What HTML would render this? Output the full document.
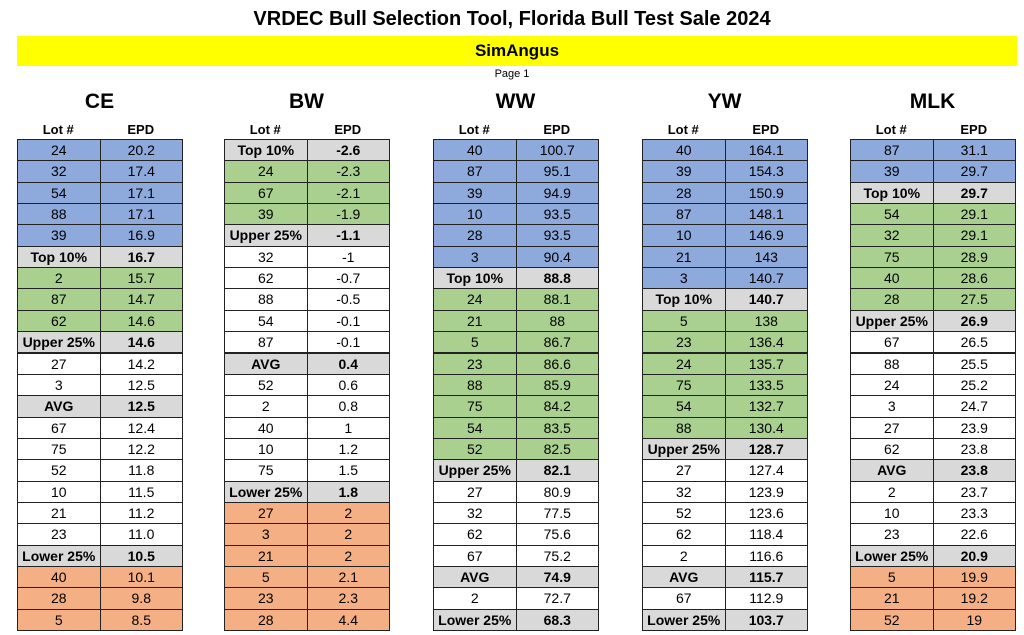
<!DOCTYPE html>
<html><head><meta charset="utf-8"><style>
body{margin:0;width:1024px;height:635px;background:#fff;font-family:"Liberation Sans",sans-serif;position:relative;overflow:hidden;color:#000}
.abs{position:absolute}
#title{left:0;width:1024px;top:8px;text-align:center;font-weight:bold;font-size:20px}
#band{left:17px;width:1000px;top:36px;height:30px;background:#ffff00;text-align:center;font-weight:bold;font-size:17px;line-height:30px}
#page{left:0;width:1024px;top:68px;text-align:center;font-size:11px}
.hd{font-weight:bold;font-size:21px;text-align:center;top:90px}
.ch{font-weight:bold;font-size:13px;text-align:center;top:122px}
.cell{position:absolute;box-sizing:border-box;border:1px solid #222;text-align:center;font-size:14px;line-height:20px}
.b{background:#8ea9db}.g{background:#a9d08e}.o{background:#f4b084}.w{background:#fff}.s{background:#d9d9d9;font-weight:bold}
</style></head><body>
<div id="title" class="abs">VRDEC Bull Selection Tool, Florida Bull Test Sale 2024</div>
<div id="band" class="abs">SimAngus</div>
<div id="page" class="abs">Page 1</div>
<script>
const traits=["CE","BW","WW","YW","MLK"];
const lefts=[17,224,433,642,850];
const ceRows=[["24","20.2","b"],["32","17.4","b"],["54","17.1","b"],["88","17.1","b"],["39","16.9","b"],["Top 10%","16.7","s"],["2","15.7","g"],["87","14.7","g"],["62","14.6","g"],["Upper 25%","14.6","s"],["27","14.2","w"],["3","12.5","w"],["AVG","12.5","s"],["67","12.4","w"],["75","12.2","w"],["52","11.8","w"],["10","11.5","w"],["21","11.2","w"],["23","11.0","w"],["Lower 25%","10.5","s"],["40","10.1","o"],["28","9.8","o"],["5","8.5","o"]];
const bwRows=[["Top 10%","-2.6","s"],["24","-2.3","g"],["67","-2.1","g"],["39","-1.9","g"],["Upper 25%","-1.1","s"],["32","-1","w"],["62","-0.7","w"],["88","-0.5","w"],["54","-0.1","w"],["87","-0.1","w"],["AVG","0.4","s"],["52","0.6","w"],["2","0.8","w"],["40","1","w"],["10","1.2","w"],["75","1.5","w"],["Lower 25%","1.8","s"],["27","2","o"],["3","2","o"],["21","2","o"],["5","2.1","o"],["23","2.3","o"],["28","4.4","o"]];
const wwRows=[["40","100.7","b"],["87","95.1","b"],["39","94.9","b"],["10","93.5","b"],["28","93.5","b"],["3","90.4","b"],["Top 10%","88.8","s"],["24","88.1","g"],["21","88","g"],["5","86.7","g"],["23","86.6","g"],["88","85.9","g"],["75","84.2","g"],["54","83.5","g"],["52","82.5","g"],["Upper 25%","82.1","s"],["27","80.9","w"],["32","77.5","w"],["62","75.6","w"],["67","75.2","w"],["AVG","74.9","s"],["2","72.7","w"],["Lower 25%","68.3","s"]];
const ywRows=[["40","164.1","b"],["39","154.3","b"],["28","150.9","b"],["87","148.1","b"],["10","146.9","b"],["21","143","b"],["3","140.7","b"],["Top 10%","140.7","s"],["5","138","g"],["23","136.4","g"],["24","135.7","g"],["75","133.5","g"],["54","132.7","g"],["88","130.4","g"],["Upper 25%","128.7","s"],["27","127.4","w"],["32","123.9","w"],["52","123.6","w"],["62","118.4","w"],["2","116.6","w"],["AVG","115.7","s"],["67","112.9","w"],["Lower 25%","103.7","s"]];
const mlkRows=[["87","31.1","b"],["39","29.7","b"],["Top 10%","29.7","s"],["54","29.1","g"],["32","29.1","g"],["75","28.9","g"],["40","28.6","g"],["28","27.5","g"],["Upper 25%","26.9","s"],["67","26.5","w"],["88","25.5","w"],["24","25.2","w"],["3","24.7","w"],["27","23.9","w"],["62","23.8","w"],["AVG","23.8","s"],["2","23.7","w"],["10","23.3","w"],["23","22.6","w"],["Lower 25%","20.9","s"],["5","19.9","o"],["21","19.2","o"],["52","19","o"]];
const all=[ceRows,bwRows,wwRows,ywRows,mlkRows];
const top0=139,rowH=21.35,colW=82.5;
all.forEach((rows,t)=>{
  const L=lefts[t];
  const h=document.createElement('div');
  h.className='abs hd';h.style.left=L+'px';h.style.width=(2*colW)+'px';h.textContent=traits[t];
  
  
  document.body.appendChild(h);
  ["Lot #","EPD"].forEach((c,j)=>{
    const e=document.createElement('div');
    e.className='abs ch';e.style.left=(L+j*colW)+'px';e.style.width=colW+'px';e.textContent=c;
    
    
    document.body.appendChild(e);
  });
  rows.forEach((r,i)=>{
    [r[0],r[1]].forEach((v,j)=>{
      const e=document.createElement('div');
      e.className='cell '+r[2];
      e.style.left=(L+j*colW)+'px';e.style.width=(colW+1)+'px';
      e.style.top=(top0+i*rowH)+'px';e.style.height=(rowH+1)+'px';
      e.style.lineHeight=(rowH-1)+'px';
      e.textContent=v;
      
      
      document.body.appendChild(e);
    });
  });
});
</script>
</body></html>
